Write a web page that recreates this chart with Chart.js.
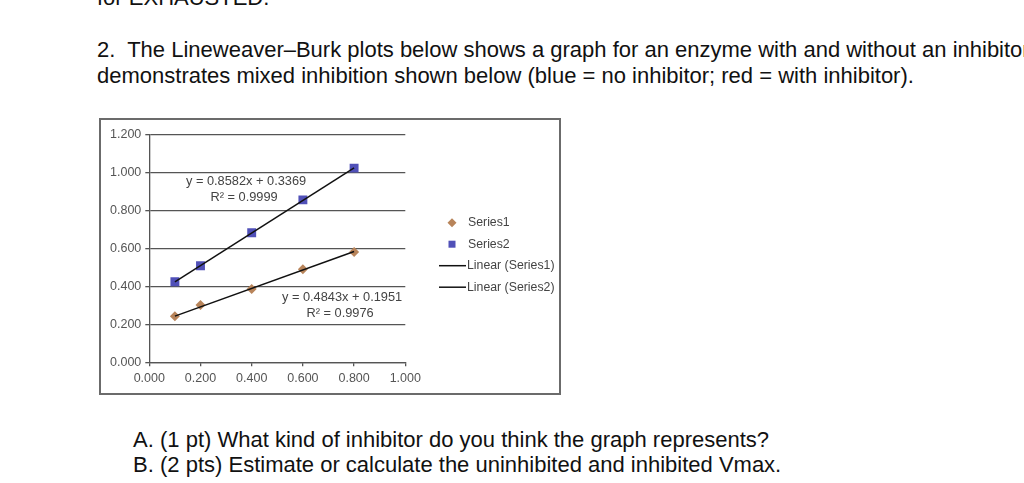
<!DOCTYPE html>
<html>
<head>
<meta charset="utf-8">
<script src="https://cdn.jsdelivr.net/npm/chart.js@4.4.1/dist/chart.umd.min.js"></script>
<style>
  body { margin: 0; background: #fff; width: 1024px; height: 483px; overflow: hidden; position: relative;
         font-family: "Liberation Sans", Arial, sans-serif; color: #111; }
  .txt { position: absolute; font-size: 22px; line-height: 24px; white-space: nowrap; }
  #box { position: absolute; left: 99px; top: 118px; width: 462px; height: 277px;
         border: 2px solid #6b6b6b; box-sizing: border-box; }
  #wrap { position: absolute; left: 0; top: 0; width: 458px; height: 273px; }
</style>
</head>
<body>
<div class="txt" style="left:97px; top:-14px;">for EXHAUSTED.</div>
<div class="txt" style="left:97px; top:38px;">2.&nbsp; The Lineweaver–Burk plots below shows a graph for an enzyme with and without an inhibitor</div>
<div class="txt" style="left:97px; top:64px;">demonstrates mixed inhibition shown below (blue = no inhibitor; red = with inhibitor).</div>

<div id="box"><div id="wrap"><canvas id="chart"></canvas></div></div>

<div class="txt" style="left:133px; top:428px;">A.</div>
<div class="txt" style="left:160px; top:428px;">(1 pt) What kind of inhibitor do you think the graph represents?</div>
<div class="txt" style="left:133px; top:453px;">B.</div>
<div class="txt" style="left:160px; top:453px;">(2 pts) Estimate or calculate the uninhibited and inhibited Vmax.</div>

<script>
// 1/[S] values and 1/v readings
const xValues = [0.1, 0.2, 0.4, 0.6, 0.8];
const series1 = [0.243, 0.302, 0.386, 0.49, 0.581];   // with inhibitor (brown)
const series2 = [0.424, 0.508, 0.682, 0.855, 1.022];  // no inhibitor (blue)
const trendX = [0.1, 0.8];
const trend1 = [0.243, 0.583];
const trend2 = [0.423, 1.023];
const seriesNames = ["Series1", "Series2", "Linear (Series1)", "Linear (Series2)"];
const equations = [
  ["y = 0.8582x + 0.3369", "R\u00B2 = 0.9999"],
  ["y = 0.4843x + 0.1951", "R\u00B2 = 0.9976"],
];

const brown = "#b8845a";
const blue = "#5050b8";
const grey = "#555555";
const font = "'Liberation Sans', Arial, sans-serif";

const toPoints = (xs, ys) => xs.map((x, i) => ({ x: x, y: ys[i] }));

const extras = {
  id: "extras",
  afterDraw: function (chart) {
    const { ctx, scales } = chart;
    const xs = scales.x, ys = scales.y;
    ctx.save();
    ctx.fillStyle = "#444";
    ctx.textAlign = "center";
    ctx.textBaseline = "middle";
    ctx.font = "12.8px " + font;
    // trendline equations
    const spots = [[0.378, 0.95], [0.753, 0.34]];
    equations.forEach((eq, i) => {
      const px = xs.getPixelForValue(spots[i][0]);
      const py = ys.getPixelForValue(spots[i][1]);
      ctx.fillText(eq[0], px, py);
      ctx.fillText(eq[1], px - 2, py + 15.5);
    });

    // legend
    const lx = 351, ly = 102.7, gap = 21.5;
    ctx.textAlign = "left";
    ctx.font = "12.3px " + font;
    // diamond
    ctx.fillStyle = brown;
    ctx.beginPath();
    ctx.moveTo(lx, ly - 4.5); ctx.lineTo(lx + 4.5, ly); ctx.lineTo(lx, ly + 4.5); ctx.lineTo(lx - 4.5, ly);
    ctx.closePath(); ctx.fill();
    // square
    ctx.fillStyle = blue;
    ctx.fillRect(lx - 3.5, ly + gap - 3.5, 7, 7);
    // lines
    ctx.strokeStyle = "#111";
    ctx.lineWidth = 1.5;
    [2, 3].forEach((k) => {
      ctx.beginPath();
      ctx.moveTo(lx - 13, ly + gap * k);
      ctx.lineTo(lx + 14, ly + gap * k);
      ctx.stroke();
    });
    ctx.fillStyle = "#444";
    seriesNames.forEach((name, k) => {
      ctx.fillText(name, k < 2 ? lx + 16 : lx + 15, ly + gap * k);
    });
    ctx.restore();
  },
};

document.addEventListener("DOMContentLoaded", function () {
  new Chart(document.getElementById("chart"), {
    type: "scatter",
    data: {
      datasets: [
        {
          label: seriesNames[2],
          type: "line",
          data: toPoints(trendX, trend1),
          borderColor: "#111",
          borderWidth: 1.5,
          pointRadius: 0,
          fill: false,
          order: 0,
        },
        {
          label: seriesNames[3],
          type: "line",
          data: toPoints(trendX, trend2),
          borderColor: "#111",
          borderWidth: 1.5,
          pointRadius: 0,
          fill: false,
          order: 0,
        },
        {
          label: seriesNames[0],
          data: toPoints(xValues, series1),
          pointStyle: "rectRot",
          pointRadius: 5,
          backgroundColor: brown,
          borderColor: brown,
          borderWidth: 0,
          order: 1,
        },
        {
          label: seriesNames[1],
          data: toPoints(xValues, series2),
          pointStyle: "rect",
          pointRadius: 6.3,
          backgroundColor: blue,
          borderColor: blue,
          borderWidth: 0,
          order: 1,
        },
      ],
    },
    options: {
      responsive: true,
      maintainAspectRatio: false,
      animation: false,
      layout: { padding: { top: 14.3, right: 153.7, left: 0, bottom: 0 } },
      plugins: { legend: { display: false }, tooltip: { enabled: false } },
      scales: {
        x: {
          type: "linear",
          min: 0,
          max: 1,
          afterFit: (s) => { s.height = 30.7; },
          ticks: {
            stepSize: 0.2,
            padding: 5,
            color: grey,
            font: { family: font, size: 12.5 },
            callback: (v) => v.toFixed(3),
          },
          grid: { drawOnChartArea: false, drawTicks: true, tickLength: 4, color: grey, lineWidth: 1.3 },
          border: { display: true, color: grey, width: 1.3 },
        },
        y: {
          min: 0,
          max: 1.2,
          afterFit: (s) => { s.width = 48.3; },
          ticks: {
            stepSize: 0.2,
            padding: 4,
            color: grey,
            font: { family: font, size: 12.5 },
            callback: (v) => v.toFixed(3),
          },
          grid: { drawOnChartArea: true, drawTicks: true, tickLength: 4, color: grey, lineWidth: 1.3 },
          border: { display: true, color: grey, width: 1.3 },
        },
      },
    },
    plugins: [extras],
  });
});
</script>
</body>
</html>
